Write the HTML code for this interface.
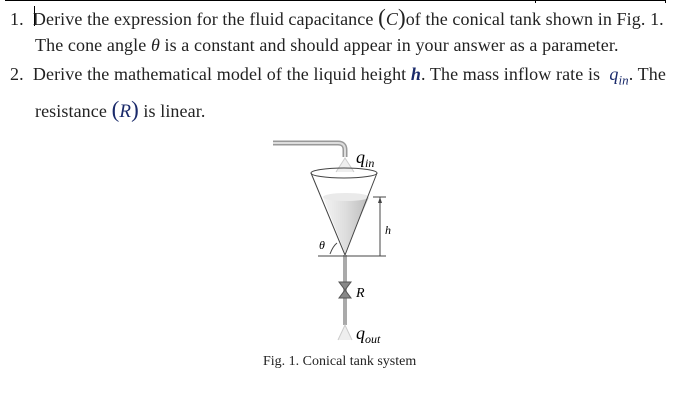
<!DOCTYPE html>
<html><head><style>
body{margin:0;width:698px;height:403px;background:#fff;overflow:hidden;font-family:"Liberation Serif",serif;color:#222;}
.t{position:absolute;font-size:18px;white-space:nowrap;letter-spacing:0.1px;}
i{font-family:"Liberation Serif",serif;}
</style></head><body>
<div style="position:absolute;left:5px;top:0;width:660px;height:1px;background:#000"></div>
<div style="position:absolute;left:535px;top:0;width:1px;height:3px;background:#000"></div>
<div style="position:absolute;left:665px;top:0;width:1px;height:3px;background:#000"></div>
<div style="position:absolute;left:34px;top:6px;width:1px;height:20px;background:#000"></div>
<div class="t" style="left:10px;top:5px">1.&nbsp;&nbsp;Derive the expression for the fluid capacitance <span style="font-size:23px">(</span><i>C</i><span style="font-size:23px">)</span>of the conical tank shown in Fig. 1.</div>
<div class="t" style="left:35px;top:35px">The cone angle <i>θ</i> is a constant and should appear in your answer as a parameter.</div>
<div class="t" style="left:10px;top:64px">2.&nbsp;&nbsp;Derive the mathematical model of the liquid height <i style="color:#1a2a6a;font-weight:bold">h</i>. The mass inflow rate is &nbsp;<i style="color:#1a2a6a">q<sub style="font-size:13px">in</sub></i>. The</div>
<div class="t" style="left:35px;top:97px">resistance <span style="font-size:23px;color:#1a2a6a">(</span><i style="color:#1a2a6a;font-size:19px">R</i><span style="font-size:23px;color:#1a2a6a">)</span> is linear.</div>
<svg style="position:absolute;left:0;top:0" width="698" height="403">
<defs><linearGradient id="g" x1="0" x2="1"><stop offset="0" stop-color="#f4f4f4"/><stop offset="0.5" stop-color="#ddd"/><stop offset="1" stop-color="#bbb"/></linearGradient></defs>
<path d="M273 143 H338 Q345 143 345 150 V157" fill="none" stroke="#999" stroke-width="5"/>
<path d="M273 143 H338 Q345 143 345 150 V157" fill="none" stroke="#ddd" stroke-width="2"/>
<path d="M336 172 L345 158 L354 172" fill="#eee" stroke="#ccc" stroke-width="1"/>
<path d="M323 197 L345 253 L369 197 Z" fill="url(#g)"/>
<ellipse cx="346" cy="197" rx="23" ry="4" fill="#eaeaea"/>
<ellipse cx="344" cy="173" rx="33" ry="5" fill="none" stroke="#444"/>
<path d="M311 173 L345 255 L377 173" fill="none" stroke="#444"/>
<rect x="343" y="255" width="4" height="70" fill="#aaa"/>
<path d="M339 282 L351 282 L345 290 Z M339 298 L351 298 L345 290 Z" fill="#888" stroke="#555"/>
<path d="M338 340 L345 325 L352 340" fill="#eee" stroke="#ccc"/>
<line x1="380" y1="197" x2="380" y2="256" stroke="#444"/>
<line x1="373" y1="197" x2="386" y2="197" stroke="#444"/>
<line x1="318" y1="256" x2="386" y2="256" stroke="#444"/>
<path d="M380 197 l-2 6 h4 z" fill="#444"/>
<path d="M330 254 Q333 246 337 243" fill="none" stroke="#444"/>
<text x="385" y="234" font-size="12" font-style="italic" font-family="Liberation Serif">h</text>
<text x="319" y="249" font-size="12" font-style="italic" font-family="Liberation Serif">θ</text>
<text x="356" y="297" font-size="14" font-style="italic" font-family="Liberation Serif">R</text>
<text x="356" y="163" font-size="18" font-style="italic" font-family="Liberation Serif">q<tspan font-size="12" dy="4">in</tspan></text>
<text x="356" y="339" font-size="18" font-style="italic" font-family="Liberation Serif">q<tspan font-size="12" dy="4">out</tspan></text>
<text x="263" y="365" font-size="14" font-family="Liberation Serif" fill="#222">Fig. 1. Conical tank system</text>
</svg>
</body></html>
